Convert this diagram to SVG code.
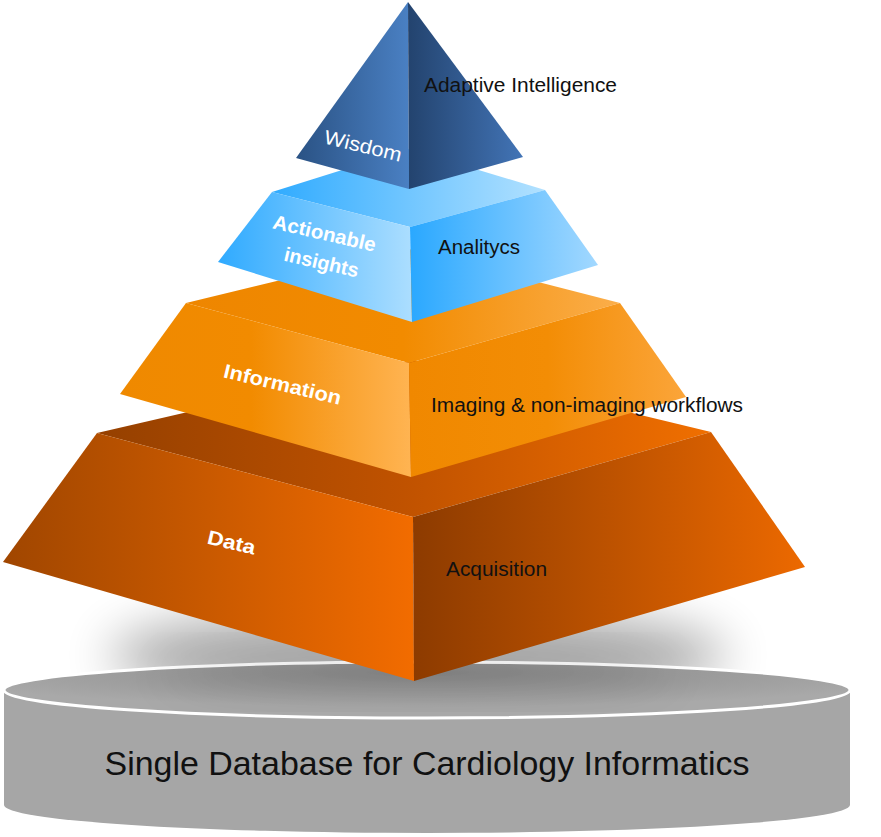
<svg xmlns="http://www.w3.org/2000/svg" width="881" height="837" viewBox="0 0 881 837">
<style>
.lbl{font-family:"Liberation Sans",Arial,sans-serif;font-size:20px;fill:#111111}
.wl{font-family:"Liberation Sans",Arial,sans-serif;font-size:20px;fill:#ffffff;text-anchor:middle}
.b{font-weight:bold}
</style>
<defs>
<linearGradient id="wL" x1="0" y1="0" x2="1" y2="0"><stop offset="0" stop-color="#2a5284"/><stop offset="1" stop-color="#4a80c3"/></linearGradient>
<linearGradient id="wR" x1="0" y1="0" x2="1" y2="0"><stop offset="0" stop-color="#23436e"/><stop offset="1" stop-color="#4274b6"/></linearGradient>
<linearGradient id="bT" x1="0" y1="0" x2="1" y2="0"><stop offset="0" stop-color="#30abff"/><stop offset="1" stop-color="#b2e1ff"/></linearGradient>
<linearGradient id="bL" x1="0" y1="0" x2="1" y2="0"><stop offset="0" stop-color="#2faaff"/><stop offset="1" stop-color="#acdeff"/></linearGradient>
<linearGradient id="bR" x1="0" y1="0" x2="1" y2="0"><stop offset="0" stop-color="#2aa8ff"/><stop offset="1" stop-color="#a2d8ff"/></linearGradient>
<linearGradient id="iT" x1="0" y1="0" x2="1" y2="0"><stop offset="0" stop-color="#ee8600"/><stop offset="0.5" stop-color="#f28b00"/><stop offset="1" stop-color="#fbae4a"/></linearGradient>
<linearGradient id="iL" x1="0" y1="0" x2="1" y2="0"><stop offset="0" stop-color="#ef8900"/><stop offset="0.45" stop-color="#f28b00"/><stop offset="1" stop-color="#ffb452"/></linearGradient>
<linearGradient id="iR" x1="0" y1="0" x2="1" y2="0"><stop offset="0" stop-color="#f08800"/><stop offset="0.5" stop-color="#f38d05"/><stop offset="1" stop-color="#fba53a"/></linearGradient>
<linearGradient id="dT" x1="0" y1="0" x2="1" y2="0"><stop offset="0" stop-color="#954000"/><stop offset="0.5" stop-color="#c05200"/><stop offset="1" stop-color="#f06f00"/></linearGradient>
<linearGradient id="dL" x1="0" y1="0" x2="1" y2="0"><stop offset="0" stop-color="#a04600"/><stop offset="1" stop-color="#f26c00"/></linearGradient>
<linearGradient id="dR" x1="0" y1="0" x2="1" y2="0"><stop offset="0" stop-color="#8d3b00"/><stop offset="1" stop-color="#ec6900"/></linearGradient>
<radialGradient id="cTop" cx="0.5" cy="0.2" r="0.6"><stop offset="0" stop-color="#8a8a8a"/><stop offset="1" stop-color="#a9a9a9"/></radialGradient>
<filter id="blur" x="-50%" y="-50%" width="200%" height="200%"><feGaussianBlur stdDeviation="24"/></filter>
</defs>
<rect width="881" height="837" fill="#ffffff"/>

<g id="shadow">
<ellipse cx="418" cy="655" rx="310" ry="50" fill="#000000" opacity="0.3" filter="url(#blur)"/>
</g>

<g id="database">
<path d="M4,690 L4,805 A423,28 0 0 0 850,805 L850,690 Z" fill="#a6a6a6"/>
<ellipse cx="427" cy="690" rx="423" ry="28" fill="url(#cTop)" stroke="#ffffff" stroke-width="3"/>
<ellipse cx="418" cy="672" rx="260" ry="20" fill="#000000" opacity="0.12" filter="url(#blur)"/>
<text x="427" y="775" text-anchor="middle" style="font-family:'Liberation Sans',Arial,sans-serif;font-size:33px;fill:#111111" textLength="645" lengthAdjust="spacingAndGlyphs">Single Database for Cardiology Informatics</text>
</g>

<g id="data">
<polygon points="97,433 413,360 711,432 413,517" fill="url(#dT)"/>
<polygon points="97,433 413,517 414,681 3,562" fill="url(#dL)"/>
<polygon points="413,517 711,432 805,567 414,681" fill="url(#dR)"/>
<text class="wl b" transform="translate(230,549) rotate(13)" textLength="49" lengthAdjust="spacingAndGlyphs">Data</text>
<text class="lbl" x="446" y="576" textLength="101" lengthAdjust="spacingAndGlyphs">Acquisition</text>
</g>

<g id="information">
<polygon points="186,303 409,249 620,303 409,363" fill="url(#iT)"/>
<polygon points="186,303 409,363 411,477 120,394" fill="url(#iL)"/>
<polygon points="409,363 620,303 686,397 411,477" fill="url(#iR)"/>
<text class="wl b" transform="translate(281,391) rotate(13.3)" textLength="120" lengthAdjust="spacingAndGlyphs">Information</text>
<text class="lbl" x="431" y="412" textLength="312" lengthAdjust="spacingAndGlyphs">Imaging &amp; non-imaging workflows</text>
</g>

<g id="actionable-insights">
<polygon points="272,192 409,149 545,190 410,227" fill="url(#bT)"/>
<polygon points="272,192 410,227 412,322 218,262" fill="url(#bL)"/>
<polygon points="410,227 545,190 598,265 412,322" fill="url(#bR)"/>
<text class="wl b" transform="translate(323,240) rotate(13)" textLength="105" lengthAdjust="spacingAndGlyphs">Actionable</text>
<text class="wl b" transform="translate(320,269) rotate(13)" textLength="76" lengthAdjust="spacingAndGlyphs">insights</text>
<text class="lbl" x="438" y="254" textLength="82" lengthAdjust="spacingAndGlyphs">Analitycs</text>
</g>

<g id="wisdom">
<polygon points="408,2 409,189 296,158" fill="url(#wL)"/>
<polygon points="408,2 523,157 409,189" fill="url(#wR)"/>
<text class="wl" transform="translate(361.5,152.5) rotate(13.4)" textLength="79" lengthAdjust="spacingAndGlyphs">Wisdom</text>
<text class="lbl" x="424" y="92" textLength="193" lengthAdjust="spacingAndGlyphs">Adaptive Intelligence</text>
</g>

<g id="connectors"/>
</svg>
